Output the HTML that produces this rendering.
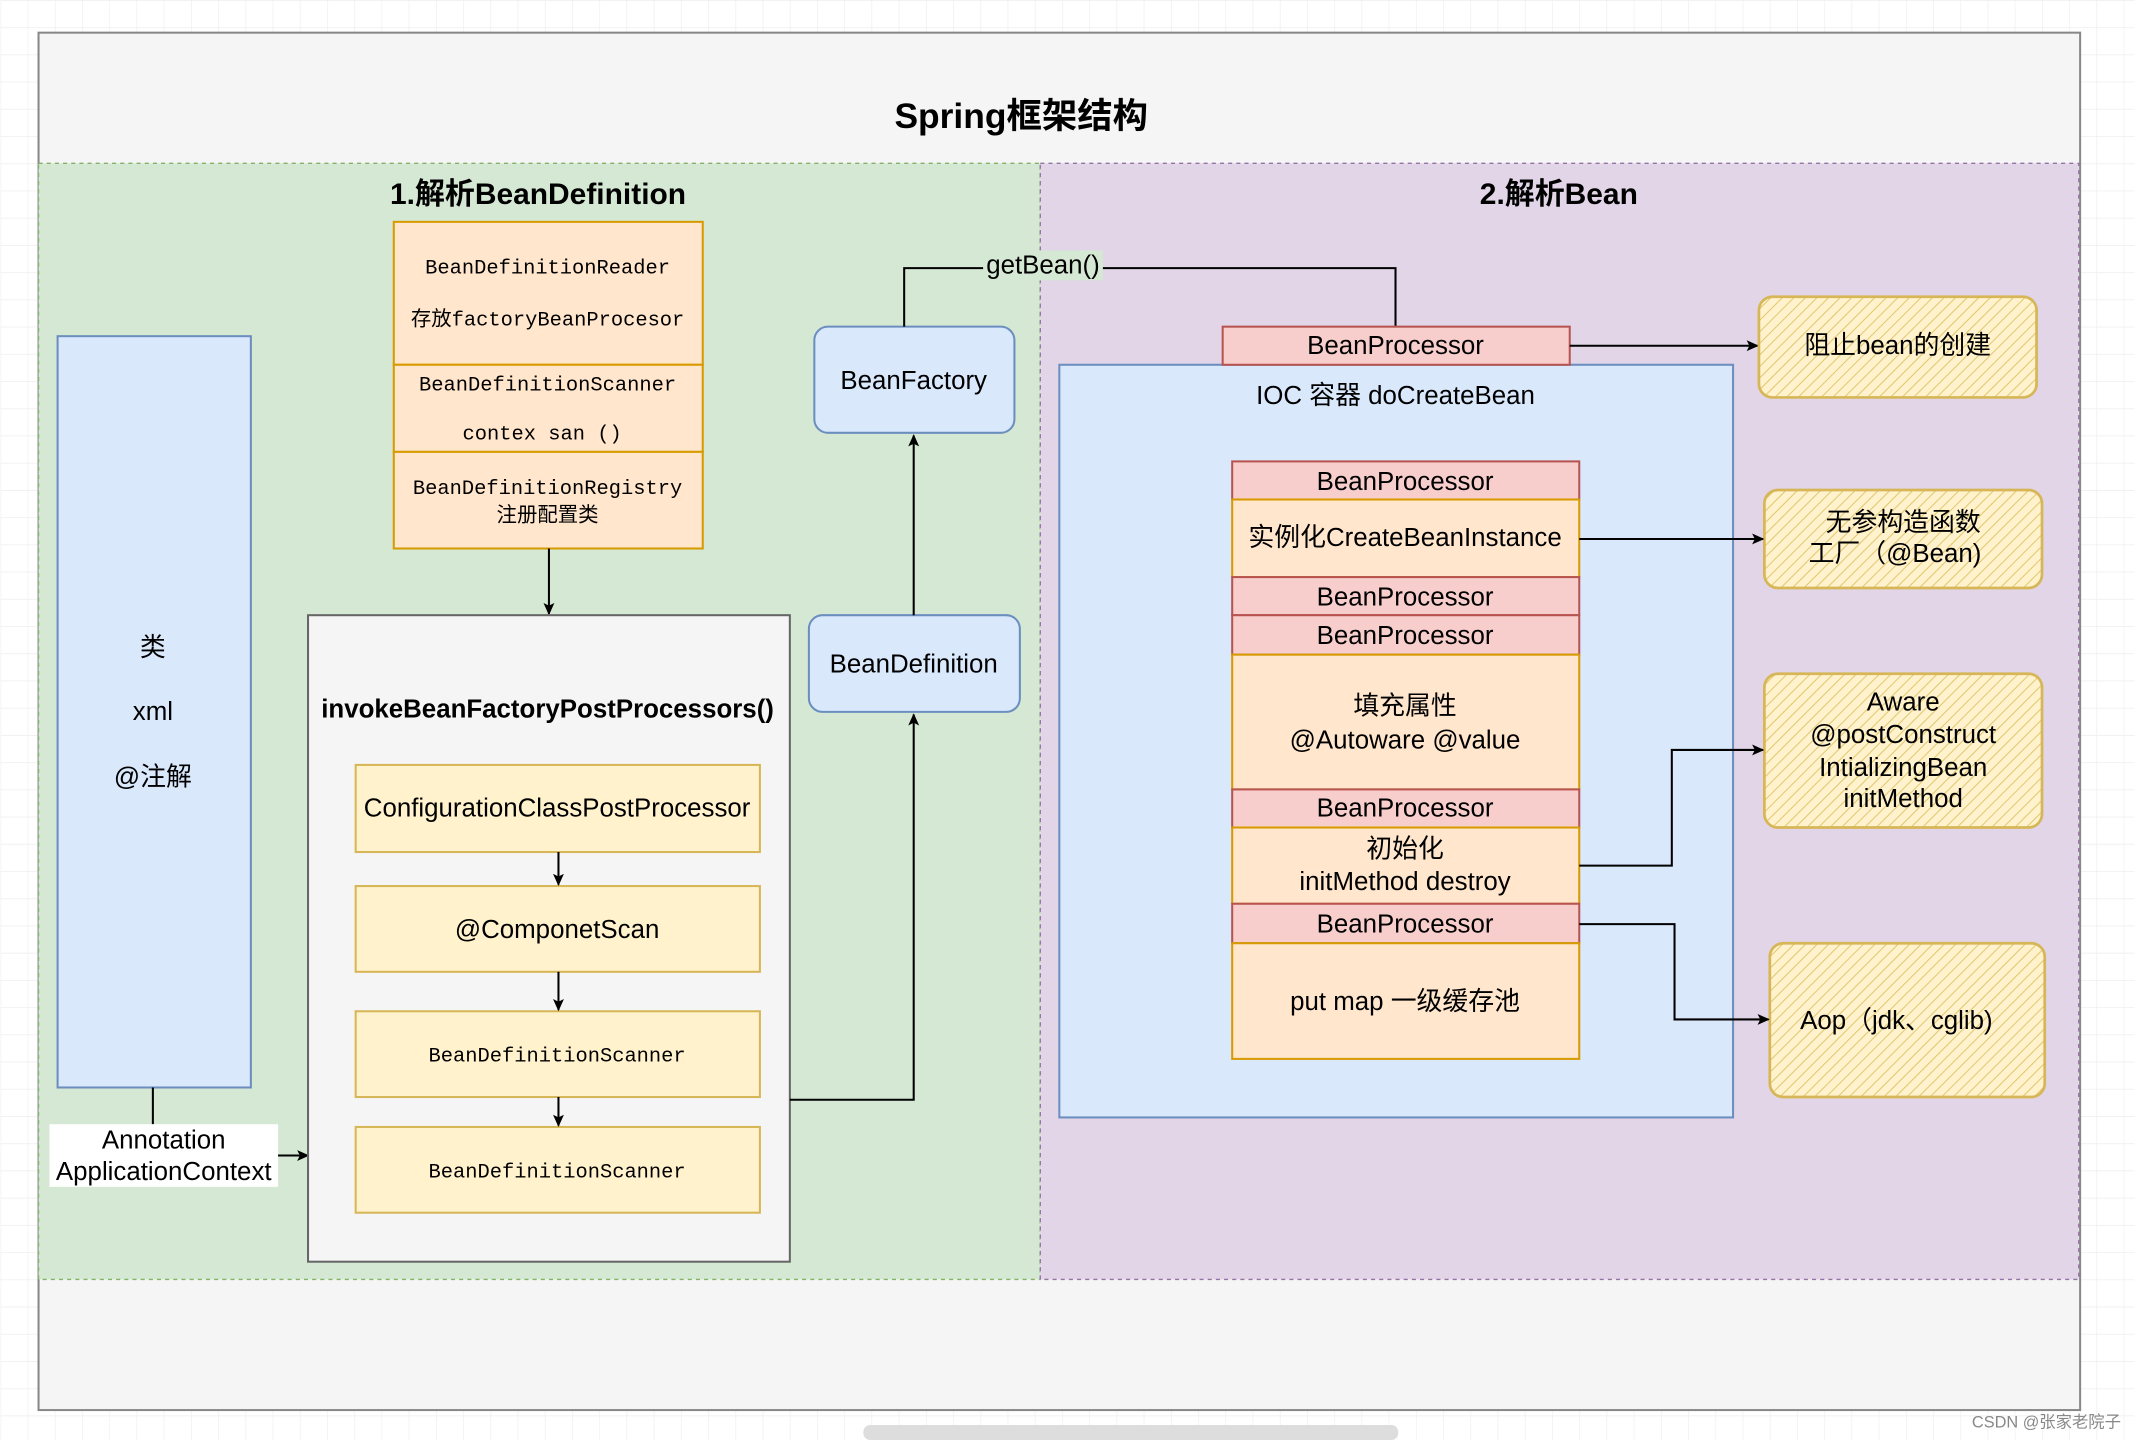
<!DOCTYPE html>
<html><head><meta charset="utf-8"><style>html,body{margin:0;padding:0;background:#fff}svg{display:block}</style></head>
<body>
<svg width="2135" height="1440" viewBox="0 0 1568 1058" xmlns="http://www.w3.org/2000/svg" font-family="Liberation Sans, Noto Sans CJK SC, sans-serif">
<defs>
<pattern id="grid" width="20" height="20" patternUnits="userSpaceOnUse"><path d="M20 0H0V20" fill="none" stroke="#eeeeee" stroke-width="1"/></pattern>
<pattern id="hatch" width="6" height="6" patternUnits="userSpaceOnUse" patternTransform="rotate(45)"><rect width="6" height="6" fill="#fff2cc"/><line x1="0" y1="0" x2="0" y2="6" stroke="#e0c870" stroke-width="1.5"/></pattern>
<marker id="ar" markerWidth="10" markerHeight="10" refX="8" refY="5" orient="auto" markerUnits="userSpaceOnUse"><path d="M0,1 L9,5 L0,9 L2,5 Z" fill="#000"/></marker>
</defs>
<rect width="1568" height="1058" fill="url(#grid)"/>
<rect x="28" y="24" width="1500" height="1012" fill="#f5f5f5" stroke="#888" stroke-width="1.5"/>
<text x="750" y="94" text-anchor="middle" font-size="26" font-weight="bold">Spring框架结构</text>
<rect x="28" y="120" width="736" height="820" fill="#d5e8d4" stroke="#82b366" stroke-dasharray="3,3"/>
<rect x="764" y="120" width="763" height="820" fill="#e1d5e7" stroke="#9673a6" stroke-dasharray="3,3"/>
<text x="395" y="150" text-anchor="middle" font-size="22" font-weight="bold">1.解析BeanDefinition</text>
<text x="1145" y="150" text-anchor="middle" font-size="22" font-weight="bold">2.解析Bean</text>
<rect x="42" y="247" width="142" height="552" fill="#dae8fc" stroke="#6c8ebf" stroke-width="1.5"/>
<g font-size="19" text-anchor="middle"><text x="112" y="482">类</text><text x="112" y="529">xml</text><text x="112" y="577">@注解</text></g>
<line x1="112" y1="799" x2="112" y2="826" stroke="#000" stroke-width="1.5"/>
<line x1="200" y1="849" x2="226" y2="849" stroke="#000" stroke-width="1.5" marker-end="url(#ar)"/>
<rect x="36" y="826" width="168" height="46" fill="#fff"/>
<g font-size="19" text-anchor="middle"><text x="120" y="844">Annotation</text><text x="120" y="867">ApplicationContext</text></g>
<g fill="#ffe6cc" stroke="#d79b00" stroke-width="1.5"><rect x="289" y="163" width="227" height="105"/><rect x="289" y="268" width="227" height="64"/><rect x="289" y="332" width="227" height="71"/></g>
<g font-family="Liberation Mono, Noto Sans CJK SC, monospace" font-size="15" text-anchor="middle"><text x="402" y="201">BeanDefinitionReader</text><text x="402" y="239">存放factoryBeanProcesor</text><text x="402" y="287">BeanDefinitionScanner</text><text x="398" y="323">contex san ()</text><text x="402" y="363">BeanDefinitionRegistry</text><text x="402" y="383">注册配置类</text></g>
<line x1="403" y1="403" x2="403" y2="451" stroke="#000" stroke-width="1.5" marker-end="url(#ar)"/>
<rect x="226" y="452" width="354" height="475" fill="#f5f5f5" stroke="#666" stroke-width="1.5"/>
<text x="402" y="527" text-anchor="middle" font-size="19" font-weight="bold">invokeBeanFactoryPostProcessors()</text>
<g fill="#fff2cc" stroke="#d6b656" stroke-width="1.5"><rect x="261" y="562" width="297" height="64"/><rect x="261" y="651" width="297" height="63"/><rect x="261" y="743" width="297" height="63"/><rect x="261" y="828" width="297" height="63"/></g>
<g font-size="19" text-anchor="middle"><text x="409" y="600">ConfigurationClassPostProcessor</text><text x="409" y="689">@ComponetScan</text></g>
<g font-family="Liberation Mono, monospace" font-size="15" text-anchor="middle"><text x="409" y="780">BeanDefinitionScanner</text><text x="409" y="865">BeanDefinitionScanner</text></g>
<g stroke="#000" stroke-width="1.5" marker-end="url(#ar)"><line x1="410" y1="626" x2="410" y2="650"/><line x1="410" y1="714" x2="410" y2="742"/><line x1="410" y1="806" x2="410" y2="827"/></g>
<rect x="598" y="240" width="147" height="78" rx="10" fill="#dae8fc" stroke="#6c8ebf" stroke-width="1.5"/>
<text x="671" y="286" text-anchor="middle" font-size="19">BeanFactory</text>
<rect x="594" y="452" width="155" height="71" rx="10" fill="#dae8fc" stroke="#6c8ebf" stroke-width="1.5"/>
<text x="671" y="494" text-anchor="middle" font-size="19">BeanDefinition</text>
<polyline points="580,808 671,808 671,525" fill="none" stroke="#000" stroke-width="1.5" marker-end="url(#ar)"/>
<line x1="671" y1="452" x2="671" y2="320" stroke="#000" stroke-width="1.5" marker-end="url(#ar)"/>
<polyline points="664,240 664,197 1025,197 1025,240" fill="none" stroke="#000" stroke-width="1.5"/>
<rect x="722" y="184" width="88" height="22" fill="#d5e8d4"/>
<text x="766" y="201" text-anchor="middle" font-size="19">getBean()</text>
<rect x="778" y="268" width="495" height="553" fill="#dae8fc" stroke="#6c8ebf" stroke-width="1.5"/>
<rect x="898" y="240" width="255" height="28" fill="#f8cecc" stroke="#b85450" stroke-width="1.5"/>
<text x="1025" y="260" text-anchor="middle" font-size="19">BeanProcessor</text>
<line x1="1153" y1="254" x2="1291" y2="254" stroke="#000" stroke-width="1.5" marker-end="url(#ar)"/>
<text x="1025" y="297" text-anchor="middle" font-size="19">IOC 容器 doCreateBean</text>
<g stroke-width="1.5">
<rect x="905" y="339" width="255" height="28" fill="#f8cecc" stroke="#b85450"/>
<rect x="905" y="367" width="255" height="57" fill="#ffe6cc" stroke="#d79b00"/>
<rect x="905" y="424" width="255" height="28" fill="#f8cecc" stroke="#b85450"/>
<rect x="905" y="452" width="255" height="29" fill="#f8cecc" stroke="#b85450"/>
<rect x="905" y="481" width="255" height="99" fill="#ffe6cc" stroke="#d79b00"/>
<rect x="905" y="580" width="255" height="28" fill="#f8cecc" stroke="#b85450"/>
<rect x="905" y="608" width="255" height="56" fill="#ffe6cc" stroke="#d79b00"/>
<rect x="905" y="664" width="255" height="29" fill="#f8cecc" stroke="#b85450"/>
<rect x="905" y="693" width="255" height="85" fill="#ffe6cc" stroke="#d79b00"/>
</g>
<g font-size="19" text-anchor="middle">
<text x="1032" y="360">BeanProcessor</text>
<text x="1032" y="401">实例化CreateBeanInstance</text>
<text x="1032" y="445">BeanProcessor</text>
<text x="1032" y="473">BeanProcessor</text>
<text x="1032" y="525">填充属性</text><text x="1032" y="550">@Autoware @value</text>
<text x="1032" y="600">BeanProcessor</text>
<text x="1032" y="630">初始化</text><text x="1032" y="654">initMethod destroy</text>
<text x="1032" y="685">BeanProcessor</text>
<text x="1032" y="742">put map 一级缓存池</text>
</g>
<g fill="url(#hatch)" stroke="#d6b656" stroke-width="2">
<rect x="1292" y="218" width="204" height="74" rx="10"/>
<rect x="1296" y="360" width="204" height="72" rx="10"/>
<rect x="1296" y="495" width="204" height="113" rx="10"/>
<rect x="1300" y="693" width="202" height="113" rx="10"/>
</g>
<g font-size="19" text-anchor="middle">
<text x="1394" y="260">阻止bean的创建</text>
<text x="1398" y="390">无参构造函数</text><text x="1392" y="413">工厂（@Bean)</text>
<text x="1398" y="522">Aware</text><text x="1398" y="546">@postConstruct</text><text x="1398" y="570">IntializingBean</text><text x="1398" y="593">initMethod</text>
<text x="1393" y="756">Aop（jdk、cglib)</text>
</g>
<g fill="none" stroke="#000" stroke-width="1.5" marker-end="url(#ar)">
<line x1="1160" y1="396" x2="1295" y2="396"/>
<polyline points="1160,636 1228,636 1228,551 1295,551"/>
<polyline points="1160,679 1230,679 1230,749 1299,749"/>
</g>
<rect x="634" y="1047" width="393" height="11" rx="5" fill="#ddd"/>
<text x="1558" y="1049" text-anchor="end" font-size="12" fill="#888">CSDN @张家老院子</text>
</svg>
</body></html>
